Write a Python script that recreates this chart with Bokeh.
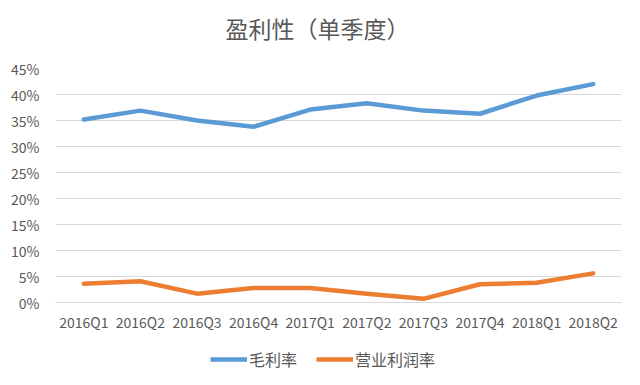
import numpy as np
from bokeh.plotting import figure
from bokeh.layouts import column
from bokeh.models import Legend, LegendItem, NumeralTickFormatter, FixedTicker, Range1d, Label
from bokeh.embed import file_html
from bokeh.resources import INLINE

title_text = "盈利性（单季度）"
quarters = ["2016Q1", "2016Q2", "2016Q3", "2016Q4", "2017Q1",
            "2017Q2", "2017Q3", "2017Q4", "2018Q1", "2018Q2"]
gross_margin = [0.352, 0.369, 0.350, 0.338, 0.371, 0.383, 0.369, 0.363, 0.398, 0.420]
op_margin = [0.036, 0.041, 0.017, 0.028, 0.028, 0.017, 0.007, 0.035, 0.038, 0.056]
y_ticks = [0, 0.05, 0.10, 0.15, 0.20, 0.25, 0.30, 0.35, 0.40, 0.45]
series_names = ["毛利率", "营业利润率"]
series_colors = ["#5b9bd5", "#ed7d31"]

CJK = "Noto Sans CJK SC"
GRAY = "#595959"


def blank_strip(h):
    f = figure(width=640, height=h, x_range=Range1d(0, 1), y_range=Range1d(0, 1),
               output_backend="svg", toolbar_location=None,
               x_axis_type=None, y_axis_type=None,
               min_border_left=0, min_border_right=0, min_border_top=0, min_border_bottom=0)
    f.outline_line_color = None
    f.xgrid.visible = False
    f.ygrid.visible = False
    return f


# title strip
pt = blank_strip(50)
pt.add_layout(Label(x=262, y=23, x_units="screen", y_units="screen", text=title_text,
                    text_align="center", text_baseline="middle",
                    text_font=CJK, text_font_size="23px", text_color=GRAY))

# main chart
p = figure(width=640, height=292, x_range=quarters, y_range=(0, 0.45),
           output_backend="svg", toolbar_location=None,
           min_border_left=55, min_border_right=19, min_border_top=18, min_border_bottom=40)
p.outline_line_color = None
p.background_fill_color = "white"
p.border_fill_color = "white"

p.xgrid.grid_line_color = None
p.ygrid.grid_line_color = "#d9d9d9"
p.ygrid.grid_line_width = 1

p.yaxis.ticker = FixedTicker(ticks=y_ticks)
p.yaxis.formatter = NumeralTickFormatter(format="0%")
p.yaxis.axis_line_color = None
p.yaxis.major_tick_line_color = None
p.yaxis.minor_tick_line_color = None
p.yaxis.major_label_text_font = CJK
p.yaxis.major_label_text_font_size = "14px"
p.yaxis.major_label_text_color = GRAY
p.yaxis.major_label_standoff = 10

p.xaxis.axis_line_color = "#d9d9d9"
p.xaxis.major_tick_line_color = None
p.xaxis.minor_tick_line_color = None
p.xaxis.major_label_text_font = CJK
p.xaxis.major_label_text_font_size = "14px"
p.xaxis.major_label_text_color = GRAY
p.xaxis.major_label_standoff = 3

p.line(quarters, gross_margin, line_color=series_colors[0], line_width=4.5,
       line_join="round", line_cap="round")
p.line(quarters, op_margin, line_color=series_colors[1], line_width=4.5,
       line_join="round", line_cap="round")

# legend strip below the chart
pl = blank_strip(43)
items = []
for name, col in zip(series_names, series_colors):
    r = pl.line(x=[np.nan], y=[np.nan], line_color=col, line_width=4.5)
    items.append(LegendItem(label=name, renderers=[r]))
legend = Legend(items=items, orientation="horizontal", location=(155, 14),
                border_line_color=None, background_fill_alpha=0,
                label_text_font=CJK, label_text_font_size="16px", label_text_color=GRAY,
                glyph_width=37, glyph_height=20, label_standoff=2, spacing=19,
                margin=0, padding=0)
pl.add_layout(legend)

layout = column(pt, p, pl, spacing=0)
open("out.html", "w").write(file_html(layout, INLINE))
